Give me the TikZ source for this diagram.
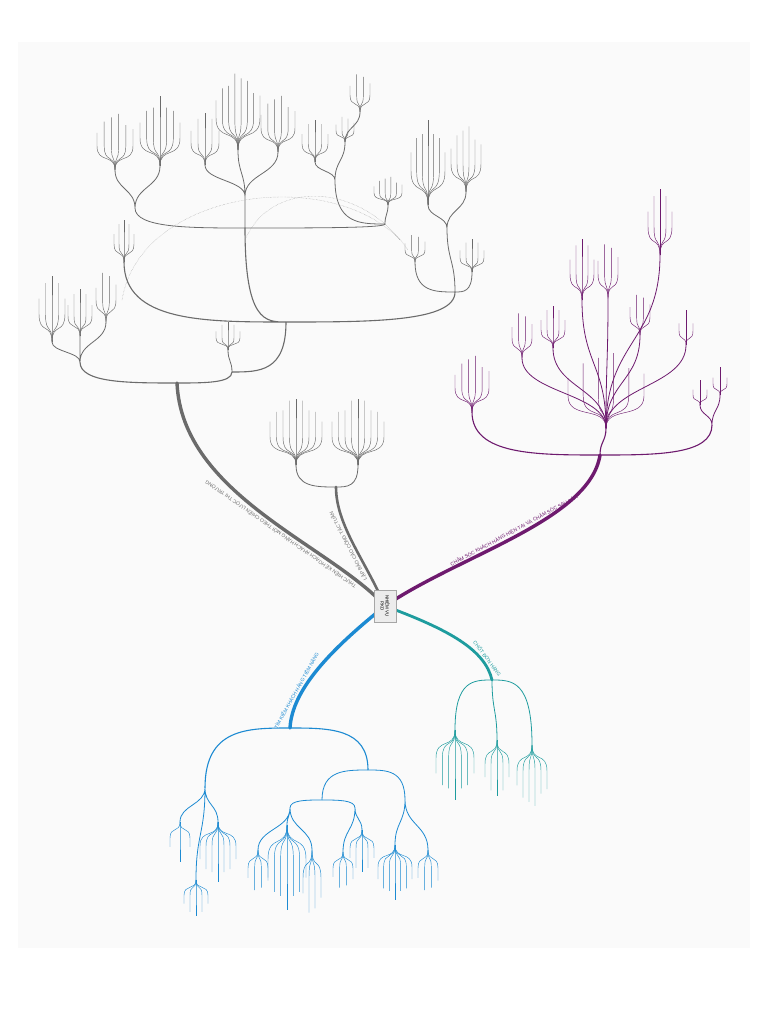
\documentclass[tikz,border=0pt]{standalone}
\usepackage{fontspec}
\setmainfont{Liberation Sans}
\usepackage{tikz}
\usetikzlibrary{calc}
\definecolor{grayc}{HTML}{6B6B6B}
\definecolor{plum}{HTML}{6E1A6E}
\definecolor{skyc}{HTML}{1C8AD2}
\definecolor{tealc}{HTML}{1E9C9E}
\tikzset{
        trunk/.style={line width=3.4pt, line cap=round}, % thick main branches
        spine/.style={line width=1.1pt},
        twig/.style={line width=0.8pt},
        leaf/.style={line width=0.45pt},
        dotline/.style={densely dotted, line width=0.4pt, grayc!70},
        tag/.style={sloped, inner sep=1.5pt, font=\fontsize{5}{6}\selectfont},
        branch/.style={to path={.. controls ($(\tikztostart)!0.5!(\tikztostart-|\tikztotarget)$) and (\tikztostart-|\tikztotarget) .. (\tikztotarget)}},
        sprout/.style={to path={.. controls ($(\tikztostart)!0.5!(\tikztostart|-\tikztotarget)$) and ($(\tikztotarget)!0.5!(\tikztotarget|-\tikztostart)$) .. (\tikztotarget)}},
        centre/.style={draw=gray!70, fill=gray!15, minimum width=32pt, minimum height=22pt, inner sep=1pt, align=center, font=\fontsize{4.5}{5}\selectfont},
    }
% a fan of leaves: base, leaves, half width, length, direction (-1 up, 1 down), style
\newcommand{\fan}[6]{%
  \foreach \k in {1,...,#2}{
    \pgfmathsetmacro{\lft}{2*(\k-1)/(#2-1)-1}
    \pgfmathsetmacro{\lfx}{#3*\lft}
    \pgfmathsetmacro{\lfy}{(#5)*#4*(1-0.32*abs(\lft)-0.06*mod(\k,2))}
    \pgfmathsetmacro{\lfa}{(#5)*#4*0.28}
    \pgfmathsetmacro{\lfb}{(#5)*#4*0.1}
    \pgfmathsetmacro{\lfc}{(#5)*#4*0.4}
    \draw[#6] (#1) .. controls ($(#1)+(0,\lfa)$) and ($(#1)+(\lfx,\lfb)$) .. ($(#1)+(\lfx,\lfc)$) -- ($(#1)+(\lfx,\lfy)$);
  }%
}
\begin{document}
\begin{tikzpicture}[x=1pt,y=-1pt]
    \useasboundingbox (0,0) rectangle (768,1024);
    \fill[black!2] (18,42) rectangle (750,948);

    \coordinate (c0) at (385,606);

    % junctions of the gray branch
    \coordinate (A) at (177,383);
    \coordinate (L1) at (80,362);
    \coordinate (GL1) at (52,342);
    \coordinate (GL2) at (80,336);
    \coordinate (GL3) at (106,322);
    \coordinate (A2) at (232,372);
    \coordinate (GA) at (228,350);
    \coordinate (B) at (286,322);
    \coordinate (W) at (124,262);
    \coordinate (E) at (245,228);
    \coordinate (E1) at (135,208);
    \coordinate (GT1) at (115,170);
    \coordinate (GT2) at (160,166);
    \coordinate (E3) at (245,196);
    \coordinate (GT3) at (205,165);
    \coordinate (GT4) at (238,150);
    \coordinate (GT5) at (278,152);
    \coordinate (E2) at (385,224);
    \coordinate (H7) at (335,180);
    \coordinate (GT6) at (315,162);
    \coordinate (GT7) at (345,142);
    \coordinate (GT8) at (360,112);
    \coordinate (GT9) at (388,205);
    \coordinate (C) at (455,292);
    \coordinate (C1) at (447,228);
    \coordinate (C2) at (472,272);
    \coordinate (C3) at (415,262);
    \coordinate (GT10) at (428,205);
    \coordinate (GT11) at (466,192);
    \coordinate (d1) at (122,300);
    \coordinate (d2) at (400,240);
    \coordinate (d3) at (245,240);
    \coordinate (d4) at (408,250);

    % small gray branch
    \coordinate (F) at (336,487);
    \coordinate (G) at (296,465);
    \coordinate (H) at (358,465);

    % purple branch
    \coordinate (P) at (600,455);
    \coordinate (PL) at (472,412);
    \coordinate (PR) at (712,425);
    \coordinate (PR1) at (700,405);
    \coordinate (PR2) at (720,395);
    \coordinate (M) at (606,428);
    \coordinate (PM1) at (522,358);
    \coordinate (PM2) at (553,348);
    \coordinate (PM3) at (582,300);
    \coordinate (PM4) at (608,298);
    \coordinate (PM5) at (640,335);
    \coordinate (PM6) at (660,255);
    \coordinate (PM7) at (686,345);

    % blue branch
    \coordinate (Q) at (290,728);
    \coordinate (R) at (205,788);
    \coordinate (BR1) at (180,822);
    \coordinate (BR2) at (218,822);
    \coordinate (BR3) at (196,880);
    \coordinate (S) at (368,770);
    \coordinate (T) at (322,800);
    \coordinate (T1) at (290,808);
    \coordinate (BT1) at (258,850);
    \coordinate (BT2) at (287,825);
    \coordinate (BT3) at (312,850);
    \coordinate (T2) at (355,808);
    \coordinate (BT4) at (343,852);
    \coordinate (BT5) at (362,830);
    \coordinate (U) at (405,800);
    \coordinate (BU1) at (395,845);
    \coordinate (BU2) at (428,850);

    % teal branch
    \coordinate (V) at (492,680);
    \coordinate (TV1) at (455,730);
    \coordinate (TV2) at (497,740);
    \coordinate (TV3) at (532,745);

    % gray
    \begin{scope}[grayc]
        \draw[trunk] (c0) .. controls (330,545) and (182,495) .. (A)
            node[tag, allow upside down, above, pos=0.42] {THỰC HIỆN KẾ HOẠCH KHÁCH HÀNG MỚI THEO CHIẾN LƯỢC THỊ TRƯỜNG};
        \draw[spine] (A) to[branch] (L1) (A) to[branch] (A2) (A2) to[branch] (B);
        \draw[twig] (L1) to[sprout] (GL1) (L1) to[sprout] (GL2) (L1) to[sprout] (GL3) (A2) to[sprout] (GA);
        \draw[spine] (B) to[branch] (C) (B) to[branch] (E) (B) to[branch] (W);
        \draw[twig] (E) to[branch] (E1) (E) to[branch] (E2) (E) to[sprout] (E3);
        \draw[twig] (E1) to[sprout] (GT1) (E1) to[sprout] (GT2);
        \draw[twig] (E3) to[sprout] (GT3) (E3) to[sprout] (GT4) (E3) to[sprout] (GT5);
        \draw[twig] (E2) to[branch] (H7) (E2) to[sprout] (GT9) (H7) to[sprout] (GT6) (H7) to[sprout] (GT7) (GT7) to[sprout] (GT8);
        \draw[twig] (C) to[sprout] (C1) (C) to[branch] (C2) (C) to[branch] (C3) (C1) to[sprout] (GT10) (C1) to[sprout] (GT11);
        \fan{GL1}{5}{13}{70}{-1}{leaf}
        \fan{GL2}{5}{12}{50}{-1}{leaf}
        \fan{GL3}{4}{10}{55}{-1}{leaf}
        \fan{GA}{5}{12}{30}{-1}{leaf}
        \fan{W}{5}{10}{45}{-1}{leaf}
        \fan{GT1}{6}{18}{60}{-1}{leaf}
        \fan{GT2}{7}{20}{70}{-1}{leaf}
        \fan{GT3}{5}{14}{55}{-1}{leaf}
        \fan{GT4}{8}{22}{80}{-1}{leaf}
        \fan{GT5}{6}{17}{60}{-1}{leaf}
        \fan{GT6}{5}{13}{45}{-1}{leaf}
        \fan{GT7}{4}{9}{28}{-1}{leaf}
        \fan{GT8}{4}{10}{42}{-1}{leaf}
        \fan{GT9}{6}{14}{30}{-1}{leaf}
        \fan{GT10}{7}{17}{85}{-1}{leaf}
        \fan{GT11}{6}{15}{70}{-1}{leaf}
        \fan{C2}{5}{12}{35}{-1}{leaf}
        \fan{C3}{4}{10}{30}{-1}{leaf}
        \draw[dotline] (d1) .. controls (140,190) and (330,165) .. (d2);
        \draw[dotline] (d3) .. controls (270,180) and (360,180) .. (d4);

        % report branch
        \draw[trunk, line width=2.6pt] (c0) .. controls (365,560) and (336,525) .. (F)
            node[tag, allow upside down, above, pos=0.5] {LẬP BÁO CÁO CÔNG TÁC TUẦN};
        \draw[twig] (F) to[branch] (G) (F) to[branch] (H);
        \fan{G}{9}{26}{70}{-1}{leaf}
        \fan{H}{9}{26}{70}{-1}{leaf}
    \end{scope}

    % purple
    \begin{scope}[plum]
        \draw[trunk] (c0) .. controls (460,555) and (590,520) .. (P)
            node[tag, above, pos=0.5] {CHĂM SÓC KHÁCH HÀNG HIỆN TẠI VÀ CHĂM SÓC SAU BÁN};
        \draw[spine] (P) to[branch] (PL) (P) to[branch] (PR) (P) to[sprout] (M);
        \draw[twig] (PR) to[sprout] (PR1) (PR) to[sprout] (PR2);
        \foreach \p in {PM1,PM2,PM3,PM4,PM5,PM6,PM7}
            \draw[twig] (M) to[sprout] (\p);
        \fan{PL}{6}{17}{60}{-1}{leaf}
        \fan{PR1}{3}{7}{25}{-1}{leaf}
        \fan{PR2}{3}{7}{28}{-1}{leaf}
        \fan{M}{6}{38}{80}{-1}{leaf}
        \fan{PM1}{4}{10}{50}{-1}{leaf}
        \fan{PM2}{5}{12}{45}{-1}{leaf}
        \fan{PM3}{5}{12}{65}{-1}{leaf}
        \fan{PM4}{4}{10}{60}{-1}{leaf}
        \fan{PM5}{4}{10}{45}{-1}{leaf}
        \fan{PM6}{5}{12}{70}{-1}{leaf}
        \fan{PM7}{3}{7}{35}{-1}{leaf}
    \end{scope}

    % blue
    \begin{scope}[skyc]
        \draw[trunk] (Q) .. controls (292,690) and (330,650) .. (c0)
            node[tag, above, pos=0.3] {TÌM KIẾM KHÁCH HÀNG TIỀM NĂNG};
        \draw[spine] (Q) to[branch] (R) (Q) to[branch] (S);
        \draw[twig] (R) to[sprout] (BR1) (R) to[sprout] (BR2) (R) to[sprout] (BR3);
        \draw[twig] (S) to[branch] (T) (S) to[branch] (U);
        \draw[twig] (T) to[branch] (T1) (T) to[branch] (T2);
        \draw[twig] (T1) to[sprout] (BT1) (T1) to[sprout] (BT2) (T1) to[sprout] (BT3);
        \draw[twig] (T2) to[sprout] (BT4) (T2) to[sprout] (BT5);
        \draw[twig] (U) to[sprout] (BU1) (U) to[sprout] (BU2);
        \fan{BR1}{3}{10}{40}{1}{leaf}
        \fan{BR2}{7}{18}{60}{1}{leaf}
        \fan{BR3}{5}{12}{38}{1}{leaf}
        \fan{BT1}{4}{10}{45}{1}{leaf}
        \fan{BT2}{7}{19}{85}{1}{leaf}
        \fan{BT3}{4}{9}{70}{1}{leaf}
        \fan{BT4}{4}{10}{40}{1}{leaf}
        \fan{BT5}{5}{12}{45}{1}{leaf}
        \fan{BU1}{7}{17}{55}{1}{leaf}
        \fan{BU2}{4}{10}{45}{1}{leaf}
    \end{scope}

    % teal
    \begin{scope}[tealc]
        \draw[trunk, line width=2.8pt] (c0) .. controls (450,630) and (485,650) .. (V)
            node[tag, above, pos=0.78] {CHỐT ĐƠN HÀNG};
        \draw[twig] (V) to[branch] (TV1) (V) to[sprout] (TV2) (V) to[branch] (TV3);
        \fan{TV1}{7}{19}{70}{1}{leaf}
        \fan{TV2}{5}{12}{60}{1}{leaf}
        \fan{TV3}{6}{15}{65}{1}{leaf}
    \end{scope}

    \node[centre, rotate=-90] (core) at (c0) {NHIỆM VỤ\\P.KD};
\end{tikzpicture}
\end{document}
